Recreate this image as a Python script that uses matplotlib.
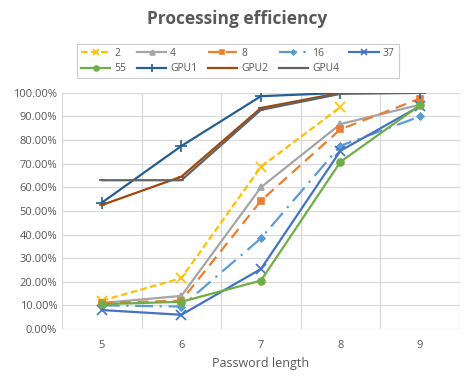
import matplotlib
matplotlib.use("Agg")
from matplotlib import pyplot as plt
from matplotlib.ticker import PercentFormatter

plt.rcParams["font.family"] = ["Open Sans", "DejaVu Sans"]

lengths = [5, 6, 7, 8, 9]
labels = ["2", "4", "8", "16", "37", "55", "GPU1", "GPU2", "GPU4"]

s2 = [12.0, 21.5, 68.7, 94.0, None]
s4 = [11.0, 14.0, 60.0, 86.8, 95.0]
s8 = [11.0, 12.0, 54.3, 84.6, 97.6]
s16 = [10.0, 9.5, 38.4, 77.6, 90.0]
s37 = [8.0, 6.0, 25.4, 75.5, 94.4]
s55 = [10.5, 11.5, 20.5, 70.8, 94.8]
gpu1 = [53.5, 77.5, 98.6, 100.0, 100.0]
gpu2 = [52.5, 64.5, 93.6, 100.0, 100.0]
gpu4 = [63.0, 63.0, 92.8, 99.6, 100.0]

series = [s2, s4, s8, s16, s37, s55, gpu1, gpu2, gpu4]
colors = ["#FFC000", "#A5A5A5", "#ED7D31", "#5B9BD5", "#4472C4", "#70AD47",
          "#255E91", "#9E480E", "#636363"]
styles = [(0, (3, 1.5)), "-", (0, (5, 3)), (0, (8, 3, 1, 3)), "-", "-", "-", "-", "-"]
markers = ["x", "^", "s", "D", "x", "o", "+", "_", "_"]
msizes = [7, 5, 5, 3.5, 7, 5, 8, 5, 5]

fig = plt.figure(figsize=(4.74, 3.87), dpi=100)
ax = fig.add_axes([0.131, 0.150, 0.839, 0.610])

handles = []
for vals, lab, c, ls, m, ms in zip(series, labels, colors, styles, markers, msizes):
    xs = [x for x, v in zip(lengths, vals) if v is not None]
    ys = [v for v in vals if v is not None]
    h, = ax.plot(xs, ys, color=c, linestyle=ls, linewidth=1.6, marker=m,
                 markersize=ms, markeredgewidth=1.2, label=lab)
    handles.append(h)

ax.set_xlim(4.5, 9.5)
ax.set_ylim(0, 100)
ax.set_yticks(range(0, 101, 10))
ax.yaxis.set_major_formatter(PercentFormatter(decimals=2))
ax.set_xticks(lengths)
ax.set_xticks([4.5, 5.5, 6.5, 7.5, 8.5, 9.5], minor=True)
ax.grid(True, axis="y", color="#D9D9D9", linewidth=0.9)
ax.grid(True, axis="x", which="minor", color="#D9D9D9", linewidth=0.9)
ax.tick_params(which="both", length=0, colors="#595959", labelsize=8)
ax.tick_params(axis="x", pad=8)
for sp in ax.spines.values():
    sp.set_visible(False)
ax.set_axisbelow(True)
ax.set_xlabel("Password length", color="#595959", fontsize=9)

fig.text(0.5, 0.952, "Processing efficiency", ha="center", va="center",
         fontsize=12.5, fontweight="bold", color="#595959")

# legend fills column by column, so reorder to read row by row
order = [0, 5, 1, 6, 2, 7, 3, 8, 4]
leg = fig.legend([handles[i] for i in order], [labels[i] for i in order],
                 loc="center", bbox_to_anchor=(0.502, 0.842), ncol=5,
                 fontsize=7.5, frameon=True, fancybox=False, edgecolor="#BFBFBF",
                 handlelength=2.8, columnspacing=1.0, handletextpad=0.4,
                 labelspacing=0.4, borderpad=0.4, markerscale=0.7)
leg.get_frame().set_linewidth(0.8)
for t in leg.get_texts():
    t.set_color("#595959")

fig.savefig("out.png", dpi=100)
